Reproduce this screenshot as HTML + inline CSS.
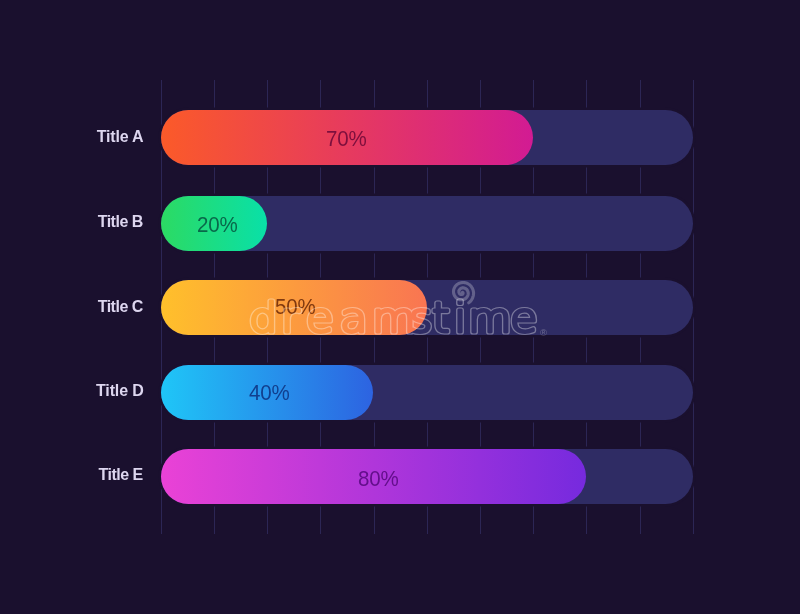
<!DOCTYPE html>
<html lang="en">
<head>
<meta charset="utf-8">
<title>Bar chart infographic</title>
<style>
html,body{margin:0;padding:0;}
body{width:800px;height:614px;background:#1a102e;overflow:hidden;position:relative;font-family:"Liberation Sans",sans-serif;}
.gl{position:absolute;top:80px;height:454px;width:1px;background:#2c2655;}
.track{position:absolute;left:161.1px;width:532.3px;border-radius:28px;background:#2f2c64;box-shadow:0 0 0 2.5px #1a102e;}
.fill{position:absolute;left:0;top:0;height:100%;border-radius:28px;}
.pct{position:absolute;font-size:21.5px;line-height:21.5px;letter-spacing:-0.2px;white-space:nowrap;transform:scaleX(0.955);transform-origin:0 0;}
.title{position:absolute;left:30px;width:113.4px;text-align:right;font-weight:bold;font-size:16px;color:#ddd6ef;line-height:20px;letter-spacing:-0.2px;white-space:nowrap;}
.wm{position:absolute;left:0;top:0;width:800px;height:614px;pointer-events:none;}
.wm text{font-family:"DejaVu Sans Light","DejaVu Sans",sans-serif;font-weight:200;font-size:40px;stroke-linejoin:round;stroke-linecap:round;}
</style>
</head>
<body>
<div class="gl" style="left:160.6px"></div>
<div class="gl" style="left:213.8px"></div>
<div class="gl" style="left:267.0px"></div>
<div class="gl" style="left:320.3px"></div>
<div class="gl" style="left:373.5px"></div>
<div class="gl" style="left:426.7px"></div>
<div class="gl" style="left:479.9px"></div>
<div class="gl" style="left:533.1px"></div>
<div class="gl" style="left:586.4px"></div>
<div class="gl" style="left:639.6px"></div>
<div class="gl" style="left:692.8px"></div>

<div class="title" style="top:126.5px;width:113.4px;letter-spacing:-0.20px">Title A</div>
<div class="track" style="top:110.0px;height:55.2px"><div class="fill" style="width:371.5px;background:linear-gradient(90deg,#fb5a29,#d21b93)"></div></div>
<div class="pct" style="left:325.8px;top:129.0px;color:#7c0f3d">70%</div>
<div class="title" style="top:212.0px;width:112.8px;letter-spacing:-0.50px">Title B</div>
<div class="track" style="top:195.5px;height:55.1px"><div class="fill" style="width:106.1px;background:linear-gradient(90deg,#2cda63,#09e0a8)"></div></div>
<div class="pct" style="left:197.2px;top:215.0px;color:#09684a">20%</div>
<div class="title" style="top:296.7px;width:112.8px;letter-spacing:-0.50px">Title C</div>
<div class="track" style="top:279.9px;height:55.0px"><div class="fill" style="width:266.1px;background:linear-gradient(90deg,#ffc02b,#f97552)"></div></div>
<div class="pct" style="left:274.7px;top:297.2px;color:#80390f">50%</div>
<div class="title" style="top:380.7px;width:113.6px;letter-spacing:-0.15px">Title D</div>
<div class="track" style="top:365.0px;height:54.7px"><div class="fill" style="width:212.4px;background:linear-gradient(90deg,#1fc6f7,#2d63e1)"></div></div>
<div class="pct" style="left:249.0px;top:383.3px;color:#113f8e">40%</div>
<div class="title" style="top:465.2px;width:112.7px;letter-spacing:-0.50px">Title E</div>
<div class="track" style="top:448.9px;height:55.3px"><div class="fill" style="width:424.7px;background:linear-gradient(90deg,#ea42d6,#762ade)"></div></div>
<div class="pct" style="left:358.1px;top:469.3px;color:#640f8c">80%</div>

<svg class="wm" viewBox="0 0 800 614">
<defs>
<mask id="wmk" maskUnits="userSpaceOnUse" x="0" y="0" width="800" height="614">
<rect x="0" y="0" width="800" height="614" fill="#000"/>
<text transform="scale(1.12,1)" x="222.3 250.9 273.2 303.6 332.1 365.2 385.7 405.4 417.9 455.4" y="332.3" fill="#fff" stroke="#fff" stroke-width="5.2">dreamstime</text>
<text transform="scale(1.12,1)" x="222.3 250.9 273.2 303.6 332.1 365.2 385.7 405.4 417.9 455.4" y="332.3" fill="#000" stroke="#000" stroke-width="2.9">dreamstime</text>
</mask>
</defs>
<rect x="240" y="279.9" width="320" height="55" fill="#fff" fill-opacity="0.36" mask="url(#wmk)"/>
<path d="M462.4 292.4 L462.5 292.4 L462.6 292.4 L462.6 292.5 L462.7 292.5 L462.8 292.5 L462.9 292.6 L462.9 292.7 L463.0 292.8 L463.0 292.9 L463.0 293.0 L463.1 293.1 L463.1 293.2 L463.1 293.3 L463.0 293.4 L463.0 293.6 L462.9 293.7 L462.9 293.8 L462.8 294.0 L462.7 294.1 L462.5 294.2 L462.4 294.3 L462.2 294.4 L462.1 294.4 L461.9 294.5 L461.7 294.5 L461.5 294.5 L461.3 294.5 L461.1 294.5 L460.9 294.5 L460.7 294.4 L460.5 294.3 L460.2 294.2 L460.0 294.1 L459.8 293.9 L459.7 293.8 L459.5 293.6 L459.3 293.3 L459.2 293.1 L459.1 292.8 L459.0 292.6 L458.9 292.3 L458.9 292.0 L458.9 291.7 L458.9 291.4 L458.9 291.1 L459.0 290.8 L459.1 290.4 L459.2 290.1 L459.4 289.8 L459.6 289.5 L459.8 289.3 L460.1 289.0 L460.3 288.8 L460.6 288.5 L461.0 288.3 L461.3 288.2 L461.7 288.0 L462.1 287.9 L462.5 287.9 L462.9 287.8 L463.3 287.8 L463.7 287.9 L464.2 288.0 L464.6 288.1 L465.0 288.3 L465.4 288.5 L465.8 288.7 L466.2 289.0 L466.5 289.3 L466.9 289.6 L467.1 290.0 L467.4 290.4 L467.6 290.9 L467.8 291.3 L468.0 291.8 L468.1 292.3 L468.2 292.9 L468.2 293.4 L468.2 293.9 L468.1 294.5 L468.0 295.0 L467.8 295.5 L467.6 296.0 L467.3 296.5 L467.0 297.0 L466.6 297.5 L466.2 297.9 L465.8 298.3 L465.3 298.6 L464.8 299.0 L464.2 299.2 L463.6 299.5 L463.0 299.6 L462.4 299.8 L461.8 299.8 L461.1 299.8 L460.5 299.8 L459.8 299.7 L459.2 299.5 L458.5 299.3 L457.9 299.0 L457.3 298.7 L456.8 298.3 L456.2 297.8 L455.7 297.3 L455.3 296.8 L454.9 296.2 L454.5 295.6 L454.2 294.9 L453.9 294.2 L453.7 293.5 L453.6 292.8 L453.5 292.0 L453.5 291.2 L453.6 290.5 L453.7 289.7 L453.9 289.0 L454.2 288.2 L454.6 287.5 L455.0 286.8 L455.4 286.1 L456.0 285.5 L456.6 285.0 L457.2 284.4 L457.9 284.0 L458.6 283.5 L459.4 283.2 L460.2 282.9 L461.0 282.7 L461.9 282.6 L462.8 282.5 L463.6 282.5 L464.5 282.6 L465.4 282.8 L466.3 283.0 L467.1 283.3 L467.9 283.7 L468.7 284.2 L469.5 284.7 L470.2 285.4 L470.8 286.0 L471.4 286.8 L471.9 287.6 L472.4 288.4 L472.8 289.3 L473.1 290.2 L473.3 291.1 L473.5 292.1 L473.6 293.1 L473.5 294.1 L473.4 295.1 L473.2 296.1 L472.9 297.1 L472.6 298.0 L472.1 298.9 L471.6 299.8 L471.0 300.7 L470.3 301.5 L469.5 302.2 L468.7 302.8" fill="none" stroke="#fff" stroke-opacity="0.25" stroke-width="3.1" stroke-linecap="round" stroke-linejoin="round"/>
<text x="540" y="336" style="font-size:9.5px;font-family:'Liberation Sans',sans-serif;font-weight:400" fill="#fff" fill-opacity="0.28">®</text>
</svg>
</body>
</html>
